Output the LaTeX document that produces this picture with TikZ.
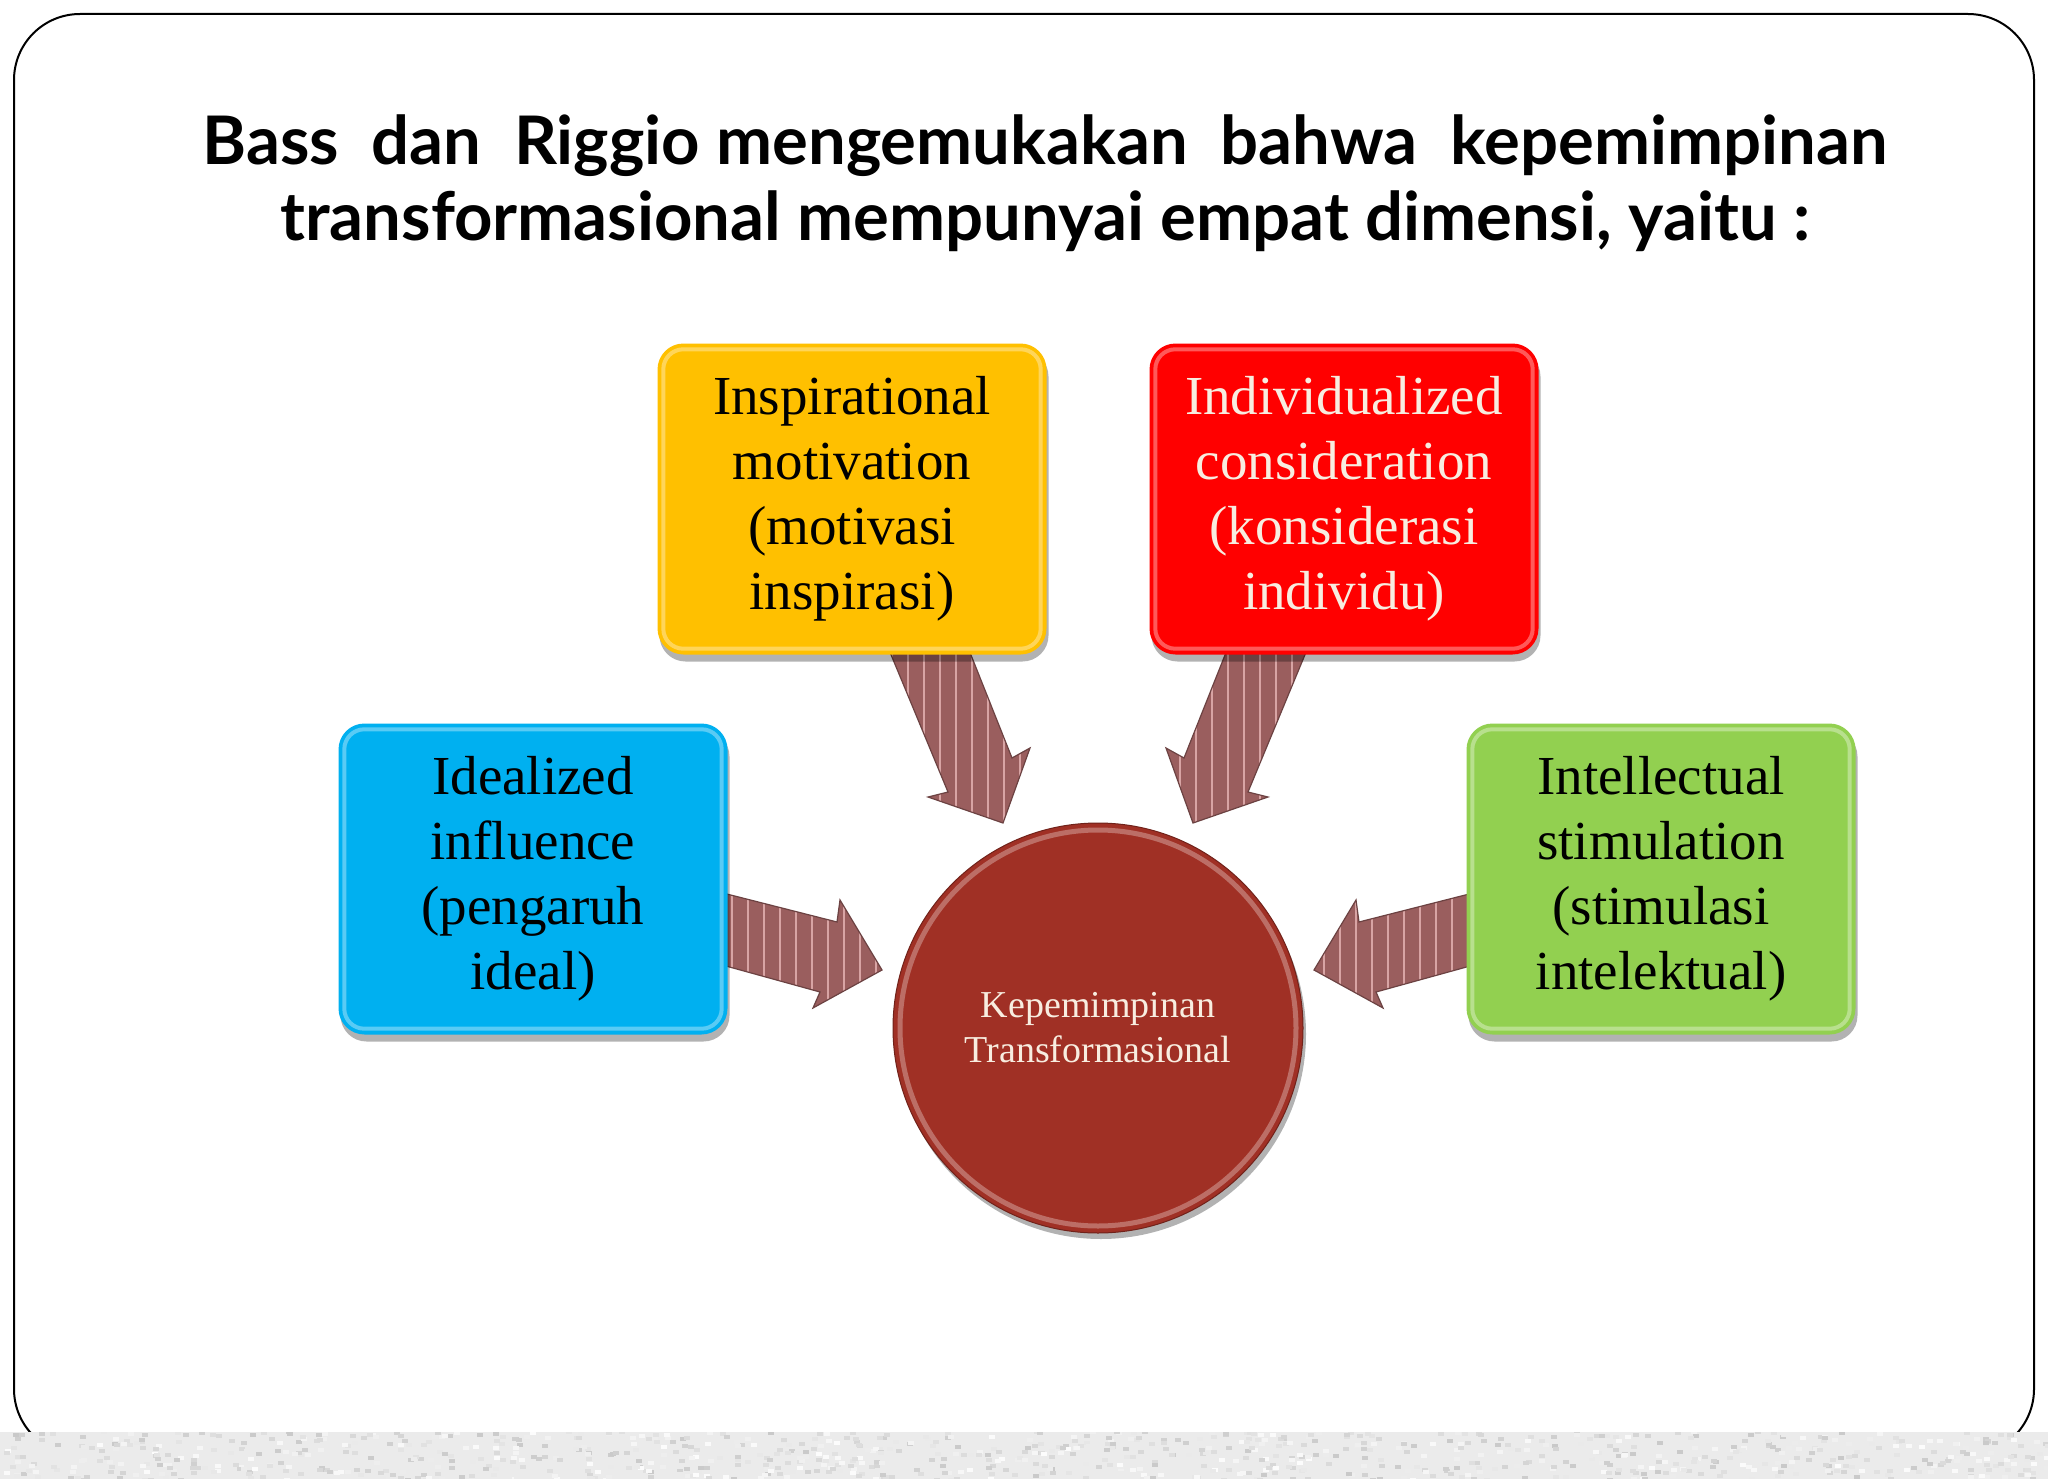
\documentclass[tikz,border=0pt]{standalone}
\usepackage{fontspec}
\setmainfont{Liberation Serif}
\newfontfamily\titlefont{Lato}
\usetikzlibrary{shadows}
\definecolor{cyel}{HTML}{FFC000}
\definecolor{cred}{HTML}{FF0000}
\definecolor{cblue}{HTML}{00B0F0}
\definecolor{cgreen}{HTML}{92D050}
\definecolor{ccirc}{HTML}{A03025}
\definecolor{carrow}{HTML}{9A5E5E}
\definecolor{cstripe}{HTML}{D8A4A4}
\definecolor{ccream}{HTML}{F8EDE0}
\tikzset{
  dimbox/.style={rounded corners=26pt, minimum width=389pt, minimum height=311pt,
    align=center, inner sep=0pt, font=\fontsize{55}{65}\selectfont,
    drop shadow={shadow xshift=2pt, shadow yshift=-7pt, opacity=0.3, fill=black}},
  gloss/.style={line width=4pt, rounded corners=20pt, opacity=0.35, draw=white},
  stripe/.style={draw=cstripe, line width=1.6pt},
  arrowedge/.style={draw=carrow!70!black, line width=1.2pt, line join=miter},
  framebox/.style={draw=black, line width=2pt, rounded corners=66pt},
}
\begin{document}
\begin{tikzpicture}[x=1pt,y=-1pt]
\useasboundingbox (0,0) rectangle (2048,1479);
\fill[white] (0,0) rectangle (2048,1479);
% frame
\draw[framebox] (14,14) rectangle (2034,1455);
% textured band
\fill[black!8] (0,1432) rectangle (2048,1479);
\begin{scope}
\clip (0,1432) rectangle (2048,1479);
\pgfmathsetseed{42}
\foreach \i in {1,...,1000}{
  \pgfmathsetmacro\xx{rnd*2048}
  \pgfmathsetmacro\yy{1430+rnd*50}
  \pgfmathsetmacro\gg{1+rnd*20}
  \fill[black!\gg] (\xx,\yy) rectangle ++(6,4);
}
\end{scope}
% title
\node[font=\titlefont\bfseries\fontsize{67}{76}\selectfont, align=center] (title) at (1045,183)
  {Bass~ dan~ Riggio mengemukakan~ bahwa~ kepemimpinan\\transformasional mempunyai empat dimensi, yaitu :};
% arrows
\foreach \P in {
  {(887,645) -- (967,645) -- (1012,758) -- (1030,748) -- (1003,823) -- (928,797) -- (948,792) -- cycle},
  {(1309,645) -- (1229,645) -- (1184,758) -- (1166,748) -- (1193,823) -- (1268,797) -- (1248,792) -- cycle},
  {(715,891) -- (837,922) -- (840,900) -- (882,970) -- (813,1008) -- (820,992) -- (715,963) -- cycle},
  {(1481,891) -- (1359,922) -- (1356,900) -- (1314,970) -- (1383,1008) -- (1376,992) -- (1481,963) -- cycle}}{
  \begin{scope}
    \clip \P;
    \fill[carrow] (700,640) rectangle (1500,1020);
    \foreach \sx in {700,716,...,1500}{\draw[stripe] (\sx,640) -- (\sx,1020);}
  \end{scope}
  \draw[arrowedge] \P;
}
% boxes
\node[dimbox, fill=cyel] (insp) at (852,499) {Inspirational\\motivation\\(motivasi\\inspirasi)};
\node[dimbox, fill=cred, text=ccream] (indiv) at (1344,499) {Individualized\\consideration\\(konsiderasi\\individu)};
\node[dimbox, fill=cblue] (ideal) at (533,879) {Idealized\\influence\\(pengaruh\\ideal)};
\node[dimbox, fill=cgreen] (intel) at (1661,879) {Intellectual\\stimulation\\(stimulasi\\intelektual)};
\foreach \b in {insp,indiv,ideal,intel}{
  \draw[gloss] ([xshift=6pt,yshift=-6pt]\b.north west) rectangle ([xshift=-6pt,yshift=6pt]\b.south east);
}
% center circle
\node[circle, fill=ccirc, minimum size=410pt, inner sep=0pt, align=center,
  text=ccream, font=\fontsize{38}{45}\selectfont,
  drop shadow={shadow xshift=3pt, shadow yshift=-6pt, opacity=0.3, fill=black}] (core) at (1098,1028)
  {Kepemimpinan\\Transformasional};
\draw[white, opacity=0.3, line width=5pt] (core.center) circle (198pt);
\draw[ccirc!70!black, line width=1pt] (core.center) circle (205pt);
\end{tikzpicture}
\end{document}
